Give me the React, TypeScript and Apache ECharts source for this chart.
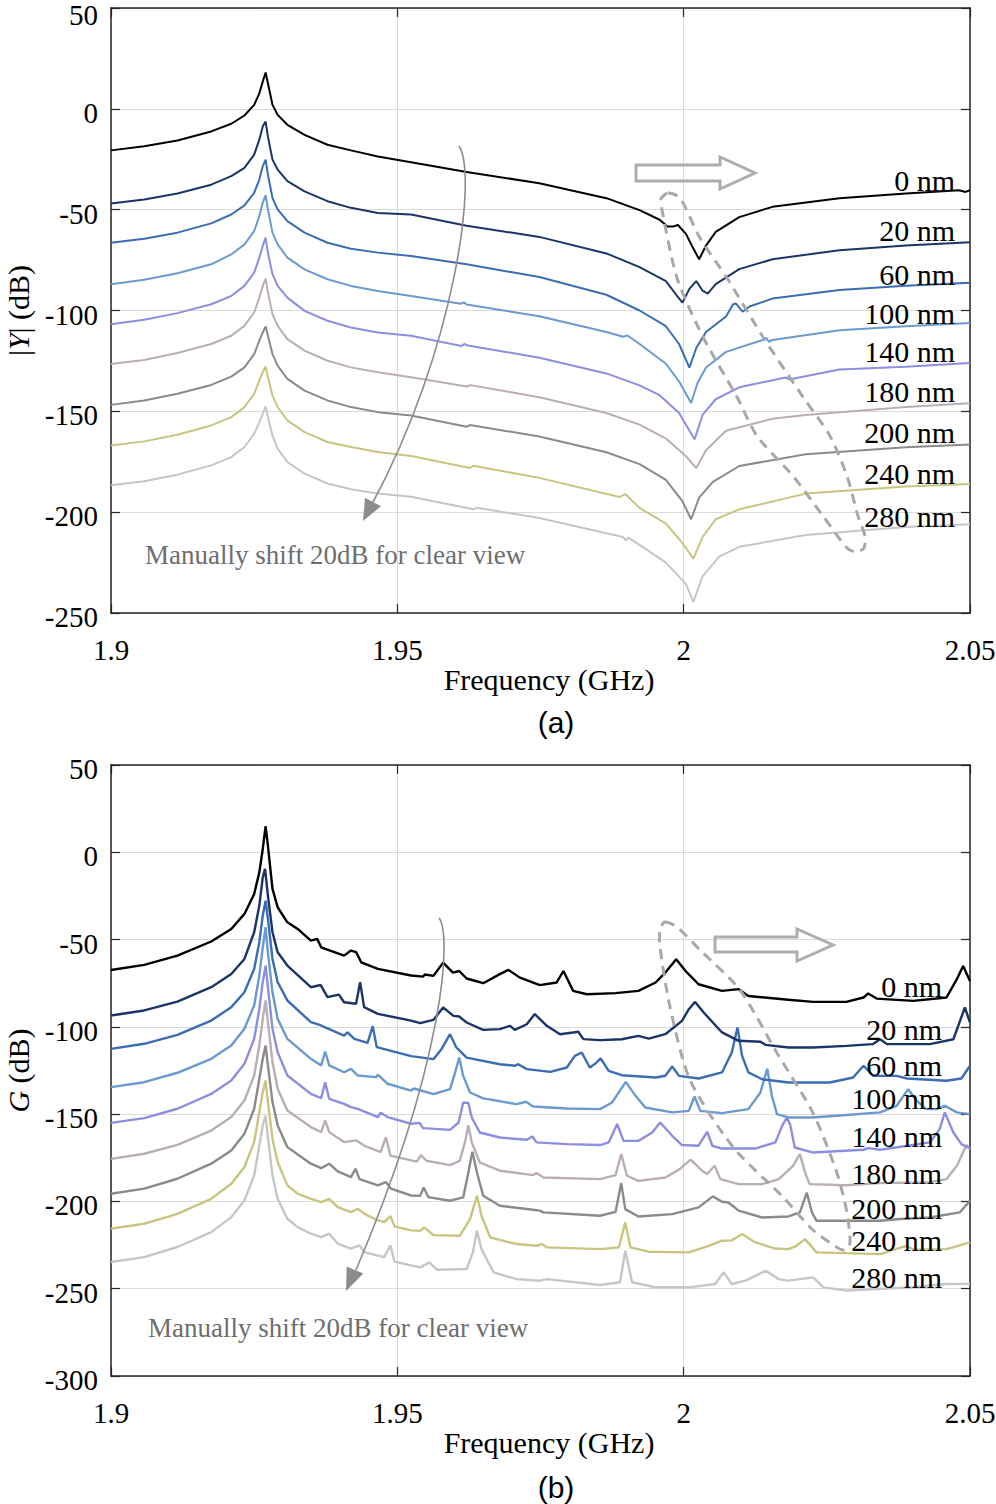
import React, { useEffect, useRef } from "react";
import * as echarts from "echarts";

// ---------- labels & styling lists ----------
const THICKNESS = ["0 nm", "20 nm", "60 nm", "100 nm", "140 nm", "180 nm", "200 nm", "240 nm", "280 nm"];
const COLORS = ["#000000", "#1b3468", "#3a6db3", "#6a9ad0", "#8c8fe0", "#bbadb5", "#8a8a8a", "#c9c47f", "#c6c6c6"];
const X_MIN = 1.9;
const X_MAX = 2.05;
const X_STEP = 0.05;
const Y_TOP_MIN = -250;
const Y_BOT_MIN = -300;
const Y_MAX = 50;
const Y_STEP = 50;

// ---------- (a) |Y| (dB) ----------
const Y_0NM = [[1.9,-20.6],[1.9058,-18.6],[1.9116,-15.7],[1.9175,-11.2],[1.921,-7.4],[1.9233,-3.3],[1.925,2],[1.9259,7.7],[1.9265,13.5],[1.927,18],[1.9274,12.7],[1.9282,2],[1.9291,-3],[1.9308,-7.9],[1.9338,-12.9],[1.9378,-17.8],[1.9419,-20.6],[1.9466,-23.6],[1.9524,-26.5],[1.9621,-31.3],[1.9748,-36.9],[1.9865,-44.3],[1.9923,-50.2],[1.9958,-55],[1.9972,-58.4],[1.9981,-58.4],[1.999,-57.6],[2.0004,-62],[2.0016,-68.8],[2.0027,-74.6],[2.0039,-67.8],[2.0056,-61],[2.0097,-53.7],[2.0155,-48.6],[2.0272,-44.3],[2.0388,-42],[2.0481,-40.4],[2.0492,-41.2],[2.05,-40.4]];
const Y_20NM = [[1.9,-47],[1.9058,-45],[1.9116,-42],[1.9175,-37.6],[1.921,-33.4],[1.9233,-29.3],[1.925,-22.7],[1.9259,-15.3],[1.9265,-8.7],[1.927,-6.3],[1.9274,-13.7],[1.9282,-25.2],[1.9291,-30.1],[1.9308,-35.9],[1.9338,-40.9],[1.9378,-45.8],[1.9419,-49.1],[1.9466,-51.6],[1.9524,-52.4],[1.9621,-58],[1.9748,-63.5],[1.9865,-71.7],[1.9923,-78.5],[1.9969,-85.4],[1.9987,-92.2],[1.9998,-96.1],[2.001,-89.3],[2.0022,-85.4],[2.0033,-90.2],[2.0042,-91.6],[2.0056,-86.9],[2.0097,-79.5],[2.0155,-74.6],[2.0272,-70.1],[2.0388,-67.8],[2.05,-66.2]];
const Y_60NM = [[1.9,-66.4],[1.9058,-64.4],[1.9116,-61.4],[1.9175,-56.8],[1.921,-52.4],[1.9233,-47.9],[1.925,-41.7],[1.9259,-35.1],[1.9265,-28.5],[1.927,-25.2],[1.9274,-32.6],[1.9282,-44.2],[1.9291,-49.9],[1.9308,-55.7],[1.9338,-61.4],[1.9378,-66.4],[1.9419,-69.4],[1.9466,-71.3],[1.9524,-73],[1.9621,-77.1],[1.9748,-83.4],[1.9865,-92.2],[1.9923,-100],[1.9969,-107.8],[1.9992,-116.6],[2.001,-128.3],[2.0022,-118.6],[2.0039,-110.7],[2.0074,-103],[2.0086,-97],[2.0091,-96.5],[2.0103,-100.6],[2.0115,-98],[2.0155,-94.1],[2.0272,-89.8],[2.0388,-87.7],[2.05,-86.3]];
const Y_100NM = [[1.9,-87],[1.9058,-84.8],[1.9116,-81.5],[1.9175,-77.1],[1.921,-72.2],[1.9233,-67.2],[1.925,-60.6],[1.9259,-53.2],[1.9265,-46.6],[1.927,-42.8],[1.9274,-49.9],[1.9282,-61.4],[1.9291,-67.2],[1.9308,-73.8],[1.9338,-79.6],[1.9378,-84.5],[1.9419,-87.8],[1.9466,-90.3],[1.9524,-92.8],[1.9611,-96.6],[1.9616,-96],[1.9621,-97],[1.9748,-102.9],[1.9865,-110.7],[1.9894,-113],[1.9902,-112.4],[1.9923,-116.6],[1.9969,-126.4],[1.9992,-135.2],[2.0013,-145.9],[2.0024,-136.1],[2.0039,-128.3],[2.0074,-120.5],[2.0138,-114.6],[2.0144,-113.6],[2.0149,-115.5],[2.0155,-114.6],[2.0272,-109.8],[2.0388,-107.8],[2.05,-106.2]];
const Y_140NM = [[1.9,-106.8],[1.9058,-104.6],[1.9116,-101.3],[1.9175,-96.9],[1.921,-92.8],[1.9233,-87.8],[1.925,-81.2],[1.9259,-73.8],[1.9265,-68],[1.927,-63.9],[1.9274,-71.3],[1.9282,-82],[1.9291,-87.8],[1.9308,-93.6],[1.9338,-100.2],[1.9378,-105.1],[1.9419,-108.4],[1.9466,-110.9],[1.9524,-112.5],[1.9612,-117.6],[1.9617,-116.6],[1.9621,-117.2],[1.9748,-123.4],[1.9865,-131.2],[1.9923,-137.1],[1.9958,-142],[1.9992,-150.8],[2.0019,-163.9],[2.0033,-151.8],[2.0056,-144],[2.0097,-138.1],[2.0178,-133.2],[2.0184,-134.2],[2.0272,-129.3],[2.0388,-127.9],[2.05,-126]];
const Y_180NM = [[1.9,-126.5],[1.9058,-124.5],[1.9116,-121.1],[1.9175,-116.6],[1.921,-112.5],[1.9233,-107.6],[1.925,-101],[1.9259,-93.6],[1.9265,-87.8],[1.927,-84.2],[1.9274,-91.1],[1.9282,-101.8],[1.9291,-107.6],[1.9308,-114.2],[1.9338,-119.9],[1.9378,-124.9],[1.9419,-128.2],[1.9466,-130.6],[1.9524,-133.1],[1.9621,-137.7],[1.9627,-137],[1.9748,-143],[1.9865,-150.8],[1.9923,-156.6],[1.9969,-163.5],[2.0004,-172.3],[2.0022,-178.1],[2.0039,-169.3],[2.0074,-159.6],[2.0155,-153.7],[2.0213,-151.8],[2.0388,-147.9],[2.05,-146]];
const Y_200NM = [[1.9,-146.8],[1.9058,-144.6],[1.9116,-141.3],[1.9175,-136.9],[1.921,-132.8],[1.9233,-128.2],[1.925,-121.6],[1.9259,-115],[1.9265,-110.9],[1.927,-107.9],[1.9274,-112.5],[1.9282,-121.6],[1.9291,-127.3],[1.9308,-133.9],[1.9338,-139.7],[1.9378,-144.6],[1.9419,-147.9],[1.9466,-150.4],[1.9524,-152.1],[1.9621,-157.6],[1.9627,-156.8],[1.9748,-162.5],[1.9865,-170.3],[1.9923,-176.2],[1.9969,-184],[1.9998,-194.7],[2.0013,-203.5],[2.0027,-192.8],[2.0051,-185],[2.0097,-177.1],[2.0213,-171.3],[2.0388,-167.8],[2.05,-166.4]];
const Y_240NM = [[1.9,-166.9],[1.9058,-164.9],[1.9116,-161.6],[1.9175,-157],[1.921,-152.9],[1.9233,-147.9],[1.925,-141.3],[1.9259,-134.8],[1.9265,-130.6],[1.927,-127.8],[1.9274,-133.1],[1.9282,-142.2],[1.9291,-147.9],[1.9308,-154.5],[1.9338,-160.3],[1.9378,-165.2],[1.9419,-167.7],[1.9466,-170.2],[1.9524,-172.2],[1.9627,-178.1],[1.9633,-177],[1.9748,-183],[1.9888,-192.5],[1.9898,-191],[1.9923,-197.9],[1.9969,-205.7],[1.9998,-215.4],[2.0017,-223],[2.0033,-212.3],[2.0056,-203.5],[2.0097,-198.6],[2.0213,-190.8],[2.0388,-187.3],[2.05,-186]];
const Y_280NM = [[1.9,-186.7],[1.9058,-184.7],[1.9116,-181.4],[1.9175,-176.8],[1.921,-172.7],[1.9233,-167.7],[1.925,-161.1],[1.9259,-155.4],[1.9265,-151.2],[1.927,-147.6],[1.9274,-152.9],[1.9282,-162],[1.9291,-168.5],[1.9308,-175.1],[1.9338,-180.9],[1.9378,-185.8],[1.9419,-188.6],[1.9466,-190.8],[1.9524,-192.4],[1.9633,-198.6],[1.9639,-197.8],[1.9748,-202.9],[1.9894,-212.3],[1.9899,-214],[1.9903,-212.6],[1.9923,-216.2],[1.9969,-225],[2.0004,-235.7],[2.0017,-244.5],[2.0033,-231.8],[2.0062,-222],[2.0097,-217.2],[2.0213,-211.3],[2.0388,-207.4],[2.05,-206]];

// ---------- (b) G (dB) ----------
const G_0NM = [[1.9,-67.4],[1.9058,-64.5],[1.9116,-59.2],[1.9175,-51.1],[1.921,-43.9],[1.9233,-35.3],[1.925,-23.9],[1.9259,-11.5],[1.9265,1.9],[1.927,14.9],[1.9274,3.8],[1.9282,-21],[1.9291,-31.5],[1.9308,-40.1],[1.9326,-43.9],[1.9349,-50.6],[1.936,-49.6],[1.9367,-54.4],[1.9407,-59.2],[1.9419,-56.3],[1.9428,-57.2],[1.9437,-63],[1.9466,-66.8],[1.9524,-70.6],[1.9545,-71.2],[1.9548,-70],[1.9563,-70.8],[1.958,-63.2],[1.9597,-68.9],[1.9608,-68],[1.9621,-72.3],[1.965,-75],[1.9679,-69.8],[1.9694,-67.4],[1.9714,-71.8],[1.9749,-76.1],[1.9778,-74.6],[1.979,-68],[1.9807,-79.4],[1.9831,-81.3],[1.9881,-80.7],[1.9921,-79.4],[1.9951,-74.6],[1.9968,-68.9],[1.9987,-61.3],[2.0003,-67.9],[2.0026,-75.6],[2.0067,-79.4],[2.0096,-78.4],[2.0113,-82.3],[2.0183,-84.5],[2.0226,-85.7],[2.0284,-85.7],[2.0314,-83.2],[2.0322,-80.9],[2.0337,-83.8],[2.0401,-85.1],[2.0459,-83.2],[2.0477,-72.7],[2.0488,-65.1],[2.05,-73.7]];
const G_20NM = [[1.9,-93.5],[1.9058,-90.6],[1.9116,-85.5],[1.9175,-77.3],[1.921,-69.7],[1.9233,-61.1],[1.925,-45.8],[1.9259,-30.5],[1.9265,-14.3],[1.9269,-9.5],[1.9274,-24.8],[1.9282,-45.8],[1.9291,-57.3],[1.9308,-64.9],[1.9349,-77.3],[1.9366,-76],[1.9378,-83],[1.9398,-81.5],[1.9407,-85.9],[1.9428,-86.8],[1.9435,-74.4],[1.9442,-88.7],[1.9466,-92.6],[1.9524,-96.4],[1.954,-97.9],[1.9563,-96],[1.958,-88.9],[1.9598,-93.7],[1.9608,-94.1],[1.9621,-97.5],[1.965,-101.7],[1.9679,-101.3],[1.9697,-99.4],[1.9705,-101.7],[1.9726,-98.5],[1.974,-92.7],[1.9761,-99.4],[1.9784,-104.2],[1.9807,-103.2],[1.9816,-102.8],[1.9825,-107],[1.9854,-107.6],[1.9892,-107.1],[1.9921,-105.2],[1.9939,-106.7],[1.9968,-104.2],[1.9997,-96.6],[2.0009,-89.9],[2.002,-85.7],[2.0035,-91.8],[2.0067,-103.2],[2.0096,-108],[2.0134,-108.5],[2.0143,-110.3],[2.0183,-111.8],[2.0226,-111.8],[2.0284,-110.9],[2.033,-109.9],[2.0343,-107.1],[2.0355,-109.9],[2.043,-109.9],[2.0471,-107.1],[2.0491,-88.9],[2.05,-97.5]];
const G_60NM = [[1.9,-112.6],[1.9058,-109.7],[1.9116,-104.6],[1.9175,-96.4],[1.921,-88.7],[1.9233,-80.2],[1.925,-66.8],[1.9259,-51.5],[1.9265,-36.3],[1.927,-27.7],[1.9274,-38.2],[1.9282,-61.1],[1.9291,-74.4],[1.9308,-84.9],[1.9349,-97.3],[1.9367,-99.2],[1.9373,-100.2],[1.9407,-105],[1.9413,-103.1],[1.9425,-106.9],[1.9448,-109.2],[1.9457,-99.6],[1.9464,-111.6],[1.9524,-116.8],[1.9563,-118.5],[1.9577,-112.8],[1.9592,-104.2],[1.9603,-111.8],[1.9621,-117.6],[1.9679,-121.4],[1.9705,-122.3],[1.9711,-121.4],[1.9726,-124.2],[1.9767,-125.8],[1.9796,-123.3],[1.981,-116.6],[1.9822,-114.7],[1.9836,-123.3],[1.9846,-121],[1.9855,-118.1],[1.9869,-125.2],[1.9892,-127.7],[1.9951,-129],[1.9968,-128],[1.998,-122.7],[1.9992,-128.1],[2.0026,-129.6],[2.0067,-126.1],[2.0084,-114.7],[2.0094,-100.4],[2.0102,-116.6],[2.0113,-126.1],[2.0137,-130],[2.0183,-131.9],[2.0255,-131.9],[2.0296,-129],[2.0314,-122.3],[2.0331,-128.1],[2.0372,-128.1],[2.039,-129.6],[2.0459,-130.9],[2.0485,-129.6],[2.05,-122.3]];
const G_100NM = [[1.9,-134.5],[1.9058,-131.7],[1.9116,-126.3],[1.9175,-118.3],[1.921,-110.7],[1.9233,-101.1],[1.925,-87.8],[1.9259,-70.6],[1.9265,-54.4],[1.927,-42.9],[1.9274,-57.3],[1.9282,-80.2],[1.9291,-95.4],[1.9308,-106.9],[1.9349,-118.3],[1.9367,-122.1],[1.9374,-114.1],[1.9381,-122.1],[1.9407,-126],[1.9419,-124.1],[1.9431,-127.9],[1.9463,-128.8],[1.9466,-127.4],[1.9483,-132.6],[1.9524,-136.5],[1.9529,-135.3],[1.9563,-138.5],[1.9592,-135.7],[1.9601,-126.1],[1.9608,-117.6],[1.9615,-128.1],[1.9627,-137.6],[1.965,-141],[1.9708,-144.3],[1.9725,-142.9],[1.9737,-145.6],[1.9796,-146.8],[1.9854,-147.1],[1.9875,-143.3],[1.9899,-131.5],[1.9916,-139.5],[1.9933,-146.2],[1.998,-149],[2.0009,-148.1],[2.0019,-139.9],[2.0029,-148.1],[2.0067,-149.4],[2.0113,-147.1],[2.0134,-137.6],[2.0146,-123.9],[2.0154,-139.5],[2.0163,-150],[2.0183,-151.9],[2.0226,-151.9],[2.0279,-150.6],[2.0343,-149],[2.0372,-145.2],[2.0392,-135.7],[2.0407,-142.4],[2.0424,-147.1],[2.0442,-147.1],[2.0456,-145.2],[2.0477,-149],[2.05,-150]];
const G_140NM = [[1.9,-155],[1.9058,-152.3],[1.9116,-146.9],[1.9175,-138.4],[1.921,-130.7],[1.9233,-121.2],[1.925,-106.9],[1.9259,-89.7],[1.9265,-74.4],[1.927,-64.9],[1.9274,-77.3],[1.9282,-101.1],[1.9291,-114.5],[1.9308,-127.9],[1.9349,-138.4],[1.9367,-140.8],[1.9374,-131.7],[1.9381,-141.2],[1.9407,-144.1],[1.9419,-146],[1.9431,-147],[1.9466,-151.7],[1.9471,-149.2],[1.9483,-151.7],[1.9524,-155.5],[1.9539,-155],[1.9545,-158],[1.9592,-159],[1.9607,-154.8],[1.9615,-143.3],[1.9624,-143.6],[1.963,-152],[1.9644,-160.5],[1.9679,-163.4],[1.9726,-164.7],[1.9736,-162.8],[1.9743,-166.2],[1.9796,-167.2],[1.9854,-167.7],[1.9869,-166.2],[1.9884,-155.7],[1.9895,-165.3],[1.9921,-165.3],[1.9945,-160.5],[1.9959,-154.8],[1.998,-162.4],[1.9997,-167.7],[2.0026,-168.1],[2.0041,-160.1],[2.005,-168.1],[2.0067,-169.7],[2.0125,-169.7],[2.016,-166.2],[2.0172,-156.7],[2.018,-151.9],[2.0186,-156],[2.0194,-169.1],[2.0226,-172],[2.0314,-170.4],[2.0322,-169.5],[2.0343,-170.4],[2.043,-166.2],[2.0447,-158.6],[2.0456,-149],[2.0471,-160.5],[2.0485,-167.2],[2.05,-169.7]];
const G_180NM = [[1.9,-175.6],[1.9058,-172.7],[1.9116,-167.6],[1.9175,-159.4],[1.921,-151.7],[1.9233,-142.2],[1.925,-127.9],[1.9259,-110.7],[1.9265,-95.4],[1.927,-84.9],[1.9274,-97.3],[1.9282,-120.2],[1.9291,-135.5],[1.9308,-147.9],[1.9349,-157.4],[1.9367,-160.3],[1.9374,-153.6],[1.9381,-160.3],[1.9407,-166],[1.9428,-165],[1.9442,-168],[1.9471,-171.8],[1.948,-163.2],[1.9488,-173.8],[1.9524,-176.5],[1.9534,-177.2],[1.9541,-173.5],[1.9551,-176.7],[1.9592,-179.2],[1.9609,-176.7],[1.9618,-166.2],[1.9624,-156.3],[1.963,-166.2],[1.9644,-177.7],[1.9679,-182.4],[1.9737,-184.9],[1.9743,-183.7],[1.9755,-186.3],[1.9854,-187.2],[1.9881,-184.9],[1.9891,-172.9],[1.9901,-185.3],[1.9921,-188.2],[1.9968,-186.3],[1.9993,-181.5],[2.0012,-176.1],[2.0023,-179.5],[2.0032,-182.4],[2.0041,-184.3],[2.0054,-179.6],[2.0064,-187.2],[2.0096,-190.1],[2.0137,-190.1],[2.0166,-187.2],[2.0191,-179.6],[2.0203,-172.9],[2.0212,-183.4],[2.022,-190.1],[2.0284,-190.7],[2.0343,-189.5],[2.043,-189],[2.0459,-187.2],[2.0477,-179.6],[2.0494,-167.7],[2.05,-170]];
const G_200NM = [[1.9,-195.6],[1.9058,-192.7],[1.9116,-187],[1.9175,-178.4],[1.921,-170.8],[1.9233,-161.3],[1.925,-146.9],[1.9259,-129.8],[1.9265,-118.3],[1.927,-110.7],[1.9274,-122.1],[1.9282,-143.1],[1.9291,-156.5],[1.9308,-168.9],[1.9349,-178.4],[1.9367,-180.9],[1.9381,-178.4],[1.9396,-182.8],[1.9419,-186.1],[1.9427,-181.3],[1.9434,-187.2],[1.9466,-190.8],[1.948,-188.9],[1.9489,-192.7],[1.9524,-196.6],[1.954,-196.8],[1.9546,-192],[1.9554,-197.5],[1.9592,-199.6],[1.9615,-197.7],[1.9624,-183.4],[1.9631,-171.6],[1.9639,-183.4],[1.965,-196.8],[1.9679,-202.5],[1.9737,-204.8],[1.9749,-205.3],[1.9755,-206.3],[1.9854,-208.2],[1.9881,-206],[1.9891,-189.5],[1.9898,-204.4],[1.9921,-208.6],[1.998,-207.3],[2.0026,-203.4],[2.0051,-197.1],[2.0067,-200.2],[2.0078,-200.6],[2.0096,-205.3],[2.0137,-209.2],[2.0183,-208.6],[2.0203,-206.3],[2.0215,-194.9],[2.0224,-206.3],[2.0232,-211.1],[2.0343,-211.1],[2.0378,-210.1],[2.043,-209.2],[2.0482,-206.3],[2.05,-199.6]];
const G_240NM = [[1.9,-215.6],[1.9058,-212.8],[1.9116,-207.1],[1.9175,-198.5],[1.921,-189.9],[1.9233,-180.3],[1.925,-166],[1.9259,-148.9],[1.9265,-137.4],[1.927,-130.7],[1.9274,-143.1],[1.9282,-164.1],[1.9291,-177.5],[1.9308,-190.8],[1.9326,-195.6],[1.9349,-198.5],[1.9367,-200.4],[1.9381,-198.5],[1.9396,-203.2],[1.9419,-206.1],[1.9431,-204.2],[1.9442,-207],[1.9466,-210.9],[1.9477,-211.8],[1.9488,-208.4],[1.9495,-214.3],[1.9524,-216.6],[1.954,-216.8],[1.9547,-214.9],[1.9563,-219.3],[1.9609,-219.7],[1.9627,-210.1],[1.9639,-196.8],[1.9647,-208.2],[1.9662,-220.6],[1.9708,-224.4],[1.9743,-225.4],[1.9752,-224.4],[1.9761,-226.3],[1.9854,-227.3],[1.9887,-226.3],[1.9898,-212],[1.9907,-226.3],[1.9939,-228.8],[2.0009,-229.2],[2.0044,-225.4],[2.0067,-222.5],[2.0084,-222.3],[2.0102,-218.7],[2.0125,-223.5],[2.016,-227],[2.0183,-227.3],[2.0197,-225.4],[2.0212,-221.6],[2.0232,-229.2],[2.0343,-230.2],[2.0389,-225.4],[2.0401,-227.6],[2.0459,-227.3],[2.05,-223.5]];
const G_280NM = [[1.9,-234.7],[1.9058,-231.9],[1.9116,-226.1],[1.9175,-217.6],[1.921,-209],[1.9233,-199.4],[1.925,-185.1],[1.9259,-167.9],[1.9265,-156.5],[1.927,-150.8],[1.9274,-163.2],[1.9282,-185.1],[1.9291,-198.5],[1.9308,-209.9],[1.9326,-214.7],[1.9349,-218.5],[1.9367,-220.4],[1.9381,-218.5],[1.9396,-224.2],[1.9419,-227.1],[1.9434,-225.2],[1.9442,-229],[1.9477,-231.9],[1.9488,-225.2],[1.9495,-234.5],[1.9524,-236.6],[1.954,-237.8],[1.9556,-234.9],[1.9569,-239.1],[1.9621,-238.7],[1.9632,-229.2],[1.9639,-216.8],[1.9647,-227.3],[1.9668,-240.6],[1.9708,-244.5],[1.9749,-245.4],[1.9761,-244.5],[1.9854,-247.9],[1.9889,-246.3],[1.9898,-228.2],[1.991,-246.3],[1.9951,-249.2],[2.0009,-249.2],[2.0055,-247.3],[2.007,-240.6],[2.0084,-247.3],[2.0108,-245.4],[2.0143,-239.7],[2.0166,-244.5],[2.0183,-245.4],[2.0203,-244.5],[2.0226,-243.5],[2.0244,-249.2],[2.0284,-251.1],[2.04,-249.2],[2.0459,-247.3],[2.05,-247.2]];

const Y_SERIES = [Y_0NM, Y_20NM, Y_60NM, Y_100NM, Y_140NM, Y_180NM, Y_200NM, Y_240NM, Y_280NM];
const G_SERIES = [G_0NM, G_20NM, G_60NM, G_100NM, G_140NM, G_180NM, G_200NM, G_240NM, G_280NM];

const SERIF = '"Liberation Serif", "Times New Roman", serif';
const SANS = '"Liberation Sans", Arial, sans-serif';
const AXIS_COLOR = "#262626";
const GRID_COLOR = "#dadada";

function xAxesFor(gridIndex: number) {
  const common = {
    type: "value",
    gridIndex,
    min: X_MIN,
    max: X_MAX,
    interval: X_STEP,
    axisLine: { show: true, onZero: false, lineStyle: { color: AXIS_COLOR, width: 1.5 } },
    axisTick: { show: true, inside: true, length: 9, lineStyle: { color: AXIS_COLOR, width: 1.2 } },
  };
  return [
    {
      ...common,
      position: "bottom",
      axisLabel: {
        show: true,
        margin: 22,
        fontFamily: SERIF,
        fontSize: 29,
        color: "#000",
        formatter: (v: number) => String(Math.round(v * 100) / 100),
      },
      splitLine: { show: true, lineStyle: { color: GRID_COLOR, width: 1 } },
      name: "Frequency (GHz)",
      nameLocation: "middle",
      nameGap: 42,
      nameTextStyle: { fontFamily: SERIF, fontSize: 30, color: "#000", padding: [0, 0, 0, 17] },
    },
    {
      ...common,
      position: "top",
      axisLabel: { show: false },
      splitLine: { show: false },
    },
  ];
}

function yAxesFor(gridIndex: number, min: number, nameRich: string) {
  const common = {
    type: "value",
    gridIndex,
    min,
    max: Y_MAX,
    interval: Y_STEP,
    axisLine: { show: true, onZero: false, lineStyle: { color: AXIS_COLOR, width: 1.5 } },
    axisTick: { show: true, inside: true, length: 9, lineStyle: { color: AXIS_COLOR, width: 1.2 } },
  };
  const tok = { fontFamily: SERIF, fontSize: 29, color: "#000" };
  return [
    {
      ...common,
      position: "left",
      axisLabel: {
        show: true,
        margin: 13,
        fontFamily: SERIF,
        fontSize: 29,
        color: "#000",
        formatter: (v: number) => (v === Y_MAX && gridIndex === 0 ? `{t|${v}}` : `{n|${v}}`),
        rich: {
          n: { ...tok, padding: [8, 0, 0, 0] },
          t: { ...tok, padding: [14, 0, 0, 0] },
        },
      },
      splitLine: { show: true, lineStyle: { color: GRID_COLOR, width: 1 } },
      name: nameRich,
      nameLocation: "middle",
      nameGap: 77,
      nameTextStyle: {
        fontFamily: SERIF,
        fontSize: 30,
        color: "#000",
        rich: { i: { fontFamily: SERIF, fontSize: 30, fontStyle: "italic", color: "#000" } },
      },
    },
    {
      ...common,
      position: "right",
      axisLabel: { show: false },
      splitLine: { show: false },
    },
  ];
}

function lineSeries(data: number[][][], xIdx: number, yIdx: number, width: number) {
  return data.map((d, i) => ({
    name: THICKNESS[i] + (xIdx === 0 ? " a" : " b"),
    type: "line",
    xAxisIndex: xIdx,
    yAxisIndex: yIdx,
    data: d,
    showSymbol: false,
    symbol: "none",
    silent: true,
    smooth: false,
    z: 20 - i,
    lineStyle: { color: COLORS[i], width },
    itemStyle: { color: COLORS[i] },
  }));
}

const TOP_LABEL_Y = [180, 230, 274, 313, 351, 391, 432, 473, 516];
const BOT_LABEL_Y = [986, 1029, 1065, 1098, 1136, 1173, 1208, 1240, 1277];

function textEl(text: string, x: number, y: number, size: number, family: string, color: string, align: string) {
  return {
    type: "text",
    x,
    y,
    z: 100,
    silent: true,
    style: {
      text,
      fill: color,
      fontSize: size,
      fontFamily: family,
      align,
      verticalAlign: "middle",
      textAlign: align,
      textVerticalAlign: "middle",
    },
  };
}

function arrowHead(tip: number[], base: number[], half: number) {
  const dx = tip[0] - base[0];
  const dy = tip[1] - base[1];
  const len = Math.sqrt(dx * dx + dy * dy);
  const px = (-dy / len) * half;
  const py = (dx / len) * half;
  return [tip, [base[0] + px, base[1] + py], [base[0] - px, base[1] - py]];
}

const DASH_TOP = [[668,193],[680,198],[700,238],[727,278],[763,337],[803,397],[830,436],[847,476],[858,516],[865,536],[864,548],[856,552],[847,548],[823,516],[793,476],[757,436],[737,397],[703,337],[677,278],[662,210],[661,199]];
const DASH_BOT = [[665,922],[677,927],[700,950],[740,990],[777,1053],[813,1113],[837,1173],[847,1213],[850,1243],[845,1250],[838,1248],[813,1230],[783,1197],[733,1147],[690,1080],[670,1007],[660,947],[660,929]];
const HOLLOW_TOP = [[636,165],[720,165],[720,157],[755,173],[720,189],[720,181],[636,181]];
const HOLLOW_BOT = [[715,937],[797,937],[797,929],[833,945],[797,961],[797,952],[715,952]];

function buildGraphics() {
  const g: any[] = [];
  THICKNESS.forEach((t, i) => {
    g.push(textEl(t, 955, TOP_LABEL_Y[i], 30, SERIF, "#000", "right"));
    g.push(textEl(t, 942, BOT_LABEL_Y[i], 30, SERIF, "#000", "right"));
  });
  g.push(textEl("Manually shift 20dB for clear view", 145, 555, 27, SERIF, "#6e6e6e", "left"));
  g.push(textEl("Manually shift 20dB for clear view", 148, 1328, 27, SERIF, "#6e6e6e", "left"));
  g.push(textEl("(a)", 556, 722, 30, SANS, "#000", "center"));
  g.push(textEl("(b)", 556, 1487, 30, SANS, "#000", "center"));

  g.push({
    type: "bezierCurve",
    silent: true,
    z: 90,
    shape: { x1: 459, y1: 146, cpx1: 478, cpy1: 175, cpx2: 455, cpy2: 350, x2: 372, y2: 504 },
    style: { stroke: "#8c8c8c", lineWidth: 1.6, fill: null },
  });
  g.push({
    type: "polygon",
    silent: true,
    z: 90,
    shape: { points: arrowHead([363, 521], [373, 502], 9) },
    style: { fill: "#8c8c8c", stroke: "none" },
  });
  g.push({
    type: "bezierCurve",
    silent: true,
    z: 90,
    shape: { x1: 439, y1: 918, cpx1: 452, cpy1: 935, cpx2: 445, cpy2: 1060, x2: 356, y2: 1270 },
    style: { stroke: "#8c8c8c", lineWidth: 1.6, fill: null },
  });
  g.push({
    type: "polygon",
    silent: true,
    z: 90,
    shape: { points: arrowHead([346, 1291], [355, 1270], 9) },
    style: { fill: "#8c8c8c", stroke: "none" },
  });
  [HOLLOW_TOP, HOLLOW_BOT].forEach((pts) =>
    g.push({
      type: "polygon",
      silent: true,
      z: 90,
      shape: { points: pts },
      style: { fill: "none", stroke: "#adadad", lineWidth: 3 },
    })
  );
  [DASH_TOP, DASH_BOT].forEach((pts) =>
    g.push({
      type: "polygon",
      silent: true,
      z: 90,
      shape: { points: pts, smooth: 0.25 },
      style: { fill: "none", stroke: "#a8a8a8", lineWidth: 3, lineDash: [10, 7] },
    })
  );
  return g;
}

export default function App() {
  const ref = useRef<HTMLDivElement>(null);
  useEffect(() => {
    if (!ref.current) return;
    const chart = echarts.init(ref.current, null, { renderer: "svg", width: 996, height: 1504 });
    const option: any = {
      animation: false,
      backgroundColor: "#ffffff",
      grid: [
        { left: 111, top: 8, width: 859, height: 605, outerBoundsMode: "none", containLabel: false },
        { left: 111, top: 765, width: 859, height: 611, outerBoundsMode: "none", containLabel: false },
      ],
      xAxis: [...xAxesFor(0), ...xAxesFor(1)],
      yAxis: [...yAxesFor(0, Y_TOP_MIN, "|{i|Y}| (dB)"), ...yAxesFor(1, Y_BOT_MIN, "{i|G} (dB)")],
      series: [...lineSeries(Y_SERIES, 0, 0, 2), ...lineSeries(G_SERIES, 2, 2, 2.4)],
      graphic: buildGraphics(),
    };
    chart.setOption(option);
    return () => chart.dispose();
  }, []);
  return (
    <div
      ref={ref}
      style={{ position: "absolute", left: 0, top: 0, width: 996, height: 1504, background: "#fff" }}
    />
  );
}
